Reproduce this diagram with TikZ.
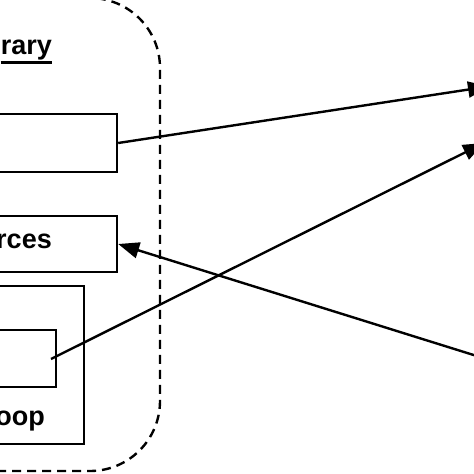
\documentclass[tikz,border=0pt]{standalone}
\usepackage{fontspec}
\setmainfont{Liberation Sans}
\usetikzlibrary{arrows.meta}
\begin{document}
\begin{tikzpicture}[x=1bp,y=-1bp,
  box/.style={draw, line width=2.4bp, rectangle, inner sep=0pt},
  lbl/.style={inner sep=0pt, font=\fontsize{27bp}{30bp}\selectfont\bfseries},
  frame/.style={draw, line width=2.4bp, dash pattern=on 9bp off 6bp, rounded corners=70bp, inner sep=0pt},
  conn/.style={line width=2.4bp, -{Triangle[length=21bp,width=16bp]}}]
\useasboundingbox (0,0) rectangle (474,474);
\clip (0,0) rectangle (474,474);
% dashed library frame
\node[frame, minimum width=300bp, minimum height=473bp] (lib) at (10,234.5) {};
% boxes
\node[box, minimum width=177bp, minimum height=58bp] (b1) at (28.5,143) {};
\node[box, minimum width=177bp, minimum height=56bp] (b2) at (28.5,244) {};
\node[box, minimum width=144bp, minimum height=158bp] (b3) at (12,365) {};
\node[box, minimum width=116bp, minimum height=57bp] (b4) at (-2,358.5) {};
% texts
\node[lbl, anchor=base east] (t1) at (52,55) {rary};
\draw[line width=3bp] ([yshift=-8bp]t1.base west) -- ([yshift=-8bp]t1.base east);
\node[lbl, anchor=base east] (t2) at (52,248) {rces};
\node[lbl, anchor=base east] (t3) at (45,425) {oop};
% connector ends outside the view
\coordinate (e1) at (489,86.4);
\coordinate (e2) at (484,143);
\coordinate (s3) at (480,357);
\coordinate (s2) at (51,359);
% connectors
\draw[conn] (b1.east) -- (e1);
\draw[conn] (s2) -- (e2);
\draw[conn] (s3) -- (b2.east);
\end{tikzpicture}
\end{document}
